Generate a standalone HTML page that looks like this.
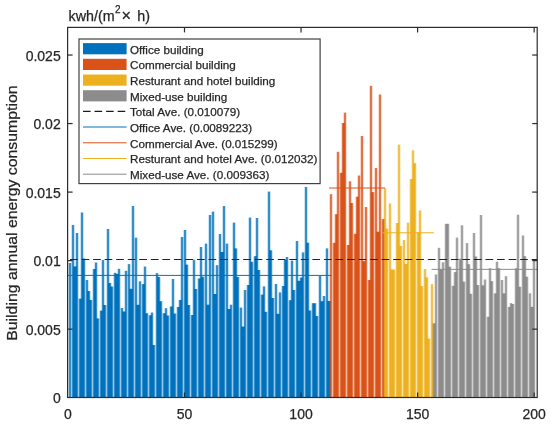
<!DOCTYPE html>
<html><head><meta charset="utf-8"><style>
html,body{margin:0;padding:0;background:#fff;}
svg{display:block;}
text{font-family:"Liberation Sans",Arial,Helvetica,sans-serif;fill:#262626;stroke:#262626;stroke-width:0.25px;}
</style></head><body>
<svg width="550" height="424" viewBox="0 0 550 424">
<defs><filter id="hb" x="-5%" y="-5%" width="110%" height="110%" color-interpolation-filters="sRGB"><feConvolveMatrix order="3 1" kernelMatrix="0.2 0.6 0.2" divisor="1" edgeMode="none" preserveAlpha="false"/></filter></defs>
<rect x="0" y="0" width="550" height="424" fill="#fff"/>
<g filter="url(#hb)"><g fill="#0072BD"><rect x="69" y="263.0" width="2" height="134.5"/><rect x="72" y="225.0" width="2" height="172.5"/><rect x="74" y="266.4" width="2" height="131.1"/><rect x="76" y="233.0" width="2" height="164.5"/><rect x="79" y="298.6" width="2" height="98.9"/><rect x="81" y="212.5" width="2" height="185.0"/><rect x="83" y="258.5" width="2" height="139.0"/><rect x="86" y="280.0" width="2" height="117.5"/><rect x="88" y="291.0" width="2" height="106.5"/><rect x="90" y="300.0" width="2" height="97.5"/><rect x="93" y="269.0" width="2" height="128.5"/><rect x="95" y="262.5" width="2" height="135.0"/><rect x="97" y="318.4" width="2" height="79.1"/><rect x="100" y="310.6" width="2" height="86.9"/><rect x="102" y="260.0" width="2" height="137.5"/><rect x="104" y="305.0" width="2" height="92.5"/><rect x="107" y="229.0" width="2" height="168.5"/><rect x="109" y="283.0" width="2" height="114.5"/><rect x="111" y="286.5" width="2" height="111.0"/><rect x="114" y="272.8" width="2" height="124.7"/><rect x="116" y="273.8" width="2" height="123.7"/><rect x="118" y="268.8" width="2" height="128.7"/><rect x="121" y="308.0" width="2" height="89.5"/><rect x="123" y="311.5" width="2" height="86.0"/><rect x="125" y="270.8" width="2" height="126.7"/><rect x="128" y="264.1" width="2" height="133.4"/><rect x="130" y="288.8" width="2" height="108.7"/><rect x="132" y="206.0" width="2" height="191.5"/><rect x="135" y="237.7" width="2" height="159.8"/><rect x="137" y="304.8" width="2" height="92.7"/><rect x="139" y="281.3" width="2" height="116.2"/><rect x="142" y="284.1" width="2" height="113.4"/><rect x="144" y="266.6" width="2" height="130.9"/><rect x="146" y="313.2" width="2" height="84.3"/><rect x="149" y="315.2" width="2" height="82.3"/><rect x="151" y="312.5" width="2" height="85.0"/><rect x="153" y="345.0" width="2" height="52.5"/><rect x="156" y="273.1" width="2" height="124.4"/><rect x="158" y="277.0" width="2" height="120.5"/><rect x="160" y="301.2" width="2" height="96.3"/><rect x="163" y="313.2" width="2" height="84.3"/><rect x="165" y="308.2" width="2" height="89.3"/><rect x="167" y="315.5" width="2" height="82.0"/><rect x="170" y="306.5" width="2" height="91.0"/><rect x="172" y="279.0" width="2" height="118.5"/><rect x="174" y="313.5" width="2" height="84.0"/><rect x="177" y="307.0" width="2" height="90.5"/><rect x="179" y="300.0" width="2" height="97.5"/><rect x="181" y="237.0" width="2" height="160.5"/><rect x="184" y="230.0" width="2" height="167.5"/><rect x="186" y="264.6" width="2" height="132.9"/><rect x="188" y="305.0" width="2" height="92.5"/><rect x="191" y="315.0" width="2" height="82.5"/><rect x="193" y="259.8" width="2" height="137.7"/><rect x="195" y="289.0" width="2" height="108.5"/><rect x="198" y="278.5" width="2" height="119.0"/><rect x="200" y="247.0" width="2" height="150.5"/><rect x="202" y="276.7" width="2" height="120.8"/><rect x="205" y="243.6" width="2" height="153.9"/><rect x="207" y="304.7" width="2" height="92.8"/><rect x="209" y="215.0" width="2" height="182.5"/><rect x="212" y="211.6" width="2" height="185.9"/><rect x="214" y="294.0" width="2" height="103.5"/><rect x="216" y="265.2" width="2" height="132.3"/><rect x="219" y="234.0" width="2" height="163.5"/><rect x="221" y="252.0" width="2" height="145.5"/><rect x="223" y="206.0" width="2" height="191.5"/><rect x="226" y="243.6" width="2" height="153.9"/><rect x="228" y="309.0" width="2" height="88.5"/><rect x="230" y="304.7" width="2" height="92.8"/><rect x="233" y="222.6" width="2" height="174.9"/><rect x="235" y="248.4" width="2" height="149.1"/><rect x="237" y="277.0" width="2" height="120.5"/><rect x="240" y="307.6" width="2" height="89.9"/><rect x="242" y="326.6" width="2" height="70.9"/><rect x="244" y="290.0" width="2" height="107.5"/><rect x="247" y="285.0" width="2" height="112.5"/><rect x="249" y="217.6" width="2" height="179.9"/><rect x="251" y="261.8" width="2" height="135.7"/><rect x="254" y="256.2" width="2" height="141.3"/><rect x="256" y="218.0" width="2" height="179.5"/><rect x="258" y="270.0" width="2" height="127.5"/><rect x="261" y="294.6" width="2" height="102.9"/><rect x="263" y="286.4" width="2" height="111.1"/><rect x="265" y="311.8" width="2" height="85.7"/><rect x="268" y="191.6" width="2" height="205.9"/><rect x="270" y="250.3" width="2" height="147.2"/><rect x="272" y="298.0" width="2" height="99.5"/><rect x="275" y="284.0" width="2" height="113.5"/><rect x="277" y="313.8" width="2" height="83.7"/><rect x="279" y="292.4" width="2" height="105.1"/><rect x="282" y="286.0" width="2" height="111.5"/><rect x="284" y="260.0" width="2" height="137.5"/><rect x="286" y="257.0" width="2" height="140.5"/><rect x="289" y="300.2" width="2" height="97.3"/><rect x="291" y="260.6" width="2" height="136.9"/><rect x="293" y="290.0" width="2" height="107.5"/><rect x="296" y="241.0" width="2" height="156.5"/><rect x="298" y="280.8" width="2" height="116.7"/><rect x="300" y="277.5" width="2" height="120.0"/><rect x="302" y="252.4" width="2" height="145.1"/><rect x="305" y="187.0" width="2" height="210.5"/><rect x="307" y="242.7" width="2" height="154.8"/><rect x="309" y="310.5" width="2" height="87.0"/><rect x="312" y="303.2" width="2" height="94.3"/><rect x="314" y="303.2" width="2" height="94.3"/><rect x="316" y="316.0" width="2" height="81.5"/><rect x="319" y="275.5" width="2" height="122.0"/><rect x="321" y="301.2" width="2" height="96.3"/><rect x="323" y="296.0" width="2" height="101.5"/><rect x="326" y="248.4" width="2" height="149.1"/><rect x="328" y="301.0" width="2" height="96.5"/></g>
<g fill="#D95319"><rect x="330" y="194.2" width="2" height="203.3"/><rect x="333" y="242.8" width="2" height="154.7"/><rect x="335" y="214.2" width="2" height="183.3"/><rect x="337" y="151.8" width="2" height="245.7"/><rect x="340" y="172.8" width="2" height="224.7"/><rect x="342" y="123.0" width="2" height="274.5"/><rect x="344" y="112.6" width="2" height="284.9"/><rect x="347" y="245.0" width="2" height="152.5"/><rect x="349" y="181.3" width="2" height="216.2"/><rect x="351" y="203.0" width="2" height="194.5"/><rect x="354" y="233.8" width="2" height="163.7"/><rect x="356" y="196.7" width="2" height="200.8"/><rect x="358" y="175.5" width="2" height="222.0"/><rect x="361" y="136.0" width="2" height="261.5"/><rect x="363" y="261.2" width="2" height="136.3"/><rect x="365" y="207.0" width="2" height="190.5"/><rect x="368" y="280.0" width="2" height="117.5"/><rect x="370" y="85.8" width="2" height="311.7"/><rect x="372" y="192.1" width="2" height="205.4"/><rect x="375" y="168.0" width="2" height="229.5"/><rect x="377" y="231.7" width="2" height="165.8"/><rect x="379" y="94.5" width="2" height="303.0"/><rect x="382" y="219.1" width="2" height="178.4"/></g>
<g fill="#EDB120"><rect x="384" y="188.2" width="2" height="209.3"/><rect x="386" y="228.5" width="2" height="169.0"/><rect x="389" y="203.4" width="2" height="194.1"/><rect x="391" y="269.5" width="2" height="128.0"/><rect x="393" y="269.5" width="2" height="128.0"/><rect x="396" y="223.0" width="2" height="174.5"/><rect x="398" y="144.6" width="2" height="252.9"/><rect x="400" y="246.0" width="2" height="151.5"/><rect x="403" y="240.0" width="2" height="157.5"/><rect x="405" y="264.0" width="2" height="133.5"/><rect x="407" y="222.7" width="2" height="174.8"/><rect x="410" y="179.0" width="2" height="218.5"/><rect x="412" y="150.4" width="2" height="247.1"/><rect x="414" y="163.1" width="2" height="234.4"/><rect x="417" y="232.4" width="2" height="165.1"/><rect x="419" y="210.4" width="2" height="187.1"/><rect x="421" y="286.1" width="2" height="111.4"/><rect x="424" y="269.0" width="2" height="128.5"/><rect x="426" y="277.4" width="2" height="120.1"/><rect x="428" y="338.5" width="2" height="59.0"/><rect x="431" y="284.2" width="2" height="113.3"/></g>
<g fill="#8C8C8C"><rect x="433" y="323.3" width="2" height="74.2"/><rect x="435" y="274.4" width="2" height="123.1"/><rect x="438" y="247.8" width="2" height="149.7"/><rect x="440" y="269.3" width="2" height="128.2"/><rect x="442" y="262.3" width="2" height="135.2"/><rect x="445" y="223.8" width="2" height="173.7"/><rect x="447" y="223.8" width="2" height="173.7"/><rect x="449" y="266.7" width="2" height="130.8"/><rect x="452" y="285.8" width="2" height="111.7"/><rect x="454" y="272.1" width="2" height="125.4"/><rect x="456" y="237.6" width="2" height="159.9"/><rect x="459" y="258.7" width="2" height="138.8"/><rect x="461" y="225.3" width="2" height="172.2"/><rect x="463" y="281.6" width="2" height="115.9"/><rect x="466" y="243.1" width="2" height="154.4"/><rect x="468" y="264.2" width="2" height="133.3"/><rect x="470" y="293.8" width="2" height="103.7"/><rect x="473" y="233.0" width="2" height="164.5"/><rect x="475" y="256.5" width="2" height="141.0"/><rect x="477" y="285.0" width="2" height="112.5"/><rect x="480" y="215.0" width="2" height="182.5"/><rect x="482" y="285.3" width="2" height="112.2"/><rect x="484" y="279.5" width="2" height="118.0"/><rect x="487" y="316.7" width="2" height="80.8"/><rect x="489" y="268.2" width="2" height="129.3"/><rect x="491" y="281.1" width="2" height="116.4"/><rect x="494" y="293.3" width="2" height="104.2"/><rect x="496" y="261.7" width="2" height="135.8"/><rect x="498" y="268.2" width="2" height="129.3"/><rect x="501" y="280.0" width="2" height="117.5"/><rect x="503" y="293.3" width="2" height="104.2"/><rect x="505" y="276.2" width="2" height="121.3"/><rect x="508" y="306.9" width="2" height="90.6"/><rect x="510" y="303.1" width="2" height="94.4"/><rect x="512" y="304.0" width="2" height="93.5"/><rect x="515" y="268.2" width="2" height="129.3"/><rect x="517" y="214.7" width="2" height="182.8"/><rect x="519" y="286.7" width="2" height="110.8"/><rect x="522" y="235.5" width="2" height="162.0"/><rect x="524" y="256.2" width="2" height="141.3"/><rect x="526" y="276.7" width="2" height="120.8"/><rect x="529" y="293.3" width="2" height="104.2"/><rect x="531" y="306.9" width="2" height="90.6"/><rect x="533" y="260.1" width="2" height="137.4"/></g></g>
<line x1="67.93" x2="331.36" y1="275.40" y2="275.40" stroke="#0072BD" stroke-width="1"/>
<line x1="329.02" x2="384.97" y1="188.00" y2="188.00" stroke="#D95319" stroke-width="1"/>
<line x1="382.64" x2="433.93" y1="232.78" y2="232.78" stroke="#EDB120" stroke-width="1"/>
<line x1="431.60" x2="537.43" y1="269.36" y2="269.36" stroke="#8C8C8C" stroke-width="1"/>
<line x1="67.60" x2="537.20" y1="259.55" y2="259.55" stroke="#222" stroke-width="1.1" stroke-dasharray="7.7 3.84" stroke-dashoffset="9.1"/>
<g stroke="#2b2b2b" stroke-width="1.2">
<rect x="67.60" y="27.40" width="469.60" height="370.10" fill="none"/>
<line x1="184.49" x2="184.49" y1="397.50" y2="392.50"/>
<line x1="184.49" x2="184.49" y1="27.40" y2="32.40"/>
<line x1="301.05" x2="301.05" y1="397.50" y2="392.50"/>
<line x1="301.05" x2="301.05" y1="27.40" y2="32.40"/>
<line x1="417.61" x2="417.61" y1="397.50" y2="392.50"/>
<line x1="417.61" x2="417.61" y1="27.40" y2="32.40"/>
<line x1="534.17" x2="534.17" y1="397.50" y2="392.50"/>
<line x1="534.17" x2="534.17" y1="27.40" y2="32.40"/>
<line x1="67.60" x2="72.60" y1="329.16" y2="329.16"/>
<line x1="537.20" x2="532.20" y1="329.16" y2="329.16"/>
<line x1="67.60" x2="72.60" y1="260.63" y2="260.63"/>
<line x1="537.20" x2="532.20" y1="260.63" y2="260.63"/>
<line x1="67.60" x2="72.60" y1="192.09" y2="192.09"/>
<line x1="537.20" x2="532.20" y1="192.09" y2="192.09"/>
<line x1="67.60" x2="72.60" y1="123.56" y2="123.56"/>
<line x1="537.20" x2="532.20" y1="123.56" y2="123.56"/>
<line x1="67.60" x2="72.60" y1="55.02" y2="55.02"/>
<line x1="537.20" x2="532.20" y1="55.02" y2="55.02"/>
</g>
<g font-size="14px">
<text x="67.93" y="418.6" text-anchor="middle">0</text>
<text x="184.49" y="418.6" text-anchor="middle">50</text>
<text x="301.05" y="418.6" text-anchor="middle">100</text>
<text x="417.61" y="418.6" text-anchor="middle">150</text>
<text x="534.17" y="418.6" text-anchor="middle">200</text>
<text x="60.7" y="403.40" text-anchor="end">0</text>
<text x="60.7" y="334.86" text-anchor="end">0.005</text>
<text x="60.7" y="266.33" text-anchor="end">0.01</text>
<text x="60.7" y="197.79" text-anchor="end">0.015</text>
<text x="60.7" y="129.26" text-anchor="end">0.02</text>
<text x="60.7" y="60.72" text-anchor="end">0.025</text>
</g>
<g font-size="11.68px">
<rect x="79.0" y="39.0" width="241.1" height="144.6" fill="#fff" stroke="#404040" stroke-width="1.2"/>
<rect x="83" y="43.1" width="43.6" height="11.2" fill="#0072BD"/>
<rect x="83" y="58.8" width="43.6" height="11.2" fill="#D95319"/>
<rect x="83" y="74.5" width="43.6" height="11.2" fill="#EDB120"/>
<rect x="83" y="90.2" width="43.6" height="11.2" fill="#8C8C8C"/>
<line x1="83" x2="126.6" y1="111.3" y2="111.3" stroke="#1a1a1a" stroke-width="1.15" stroke-dasharray="7.6 3.95"/>
<line x1="83" x2="126.6" y1="127.0" y2="127.0" stroke="#0072BD" stroke-width="1"/>
<line x1="83" x2="126.6" y1="142.8" y2="142.8" stroke="#D95319" stroke-width="1"/>
<line x1="83" x2="126.6" y1="158.5" y2="158.5" stroke="#EDB120" stroke-width="1"/>
<line x1="83" x2="126.6" y1="174.2" y2="174.2" stroke="#8C8C8C" stroke-width="1"/>
<text x="130" y="53.6">Office building</text>
<text x="130" y="69.3">Commercial building</text>
<text x="130" y="85.0">Resturant and hotel building</text>
<text x="130" y="100.7">Mixed-use building</text>
<text x="130" y="116.2">Total Ave. (0.010079)</text>
<text x="130" y="131.9">Office Ave. (0.0089223)</text>
<text x="130" y="147.7">Commercial Ave. (0.015299)</text>
<text x="130" y="163.4">Resturant and hotel Ave. (0.012032)</text>
<text x="130" y="179.1">Mixed-use Ave. (0.009363)</text>
</g>
<g font-size="14.3px"><text x="68.6" y="21">kwh/(m</text><text x="114.9" y="12.6" font-size="10px">2</text><text x="121.6" y="21" font-size="16.3px">×</text><text x="137.2" y="21">h)</text></g>
<text transform="translate(16.8,213.1) rotate(-90)" text-anchor="middle" font-size="15.2px" textLength="255.5" lengthAdjust="spacingAndGlyphs">Building annual energy consumption</text>
</svg>
</body></html>
